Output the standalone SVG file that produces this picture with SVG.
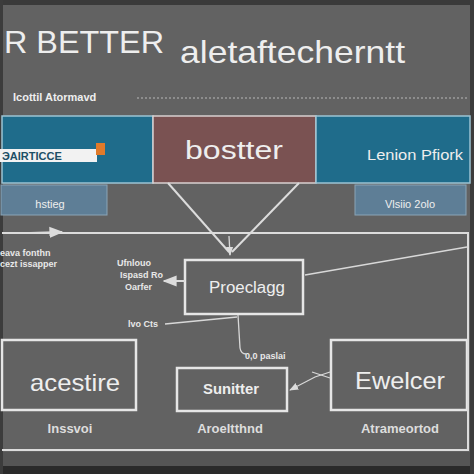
<svg xmlns="http://www.w3.org/2000/svg" width="474" height="474" viewBox="0 0 474 474">
<defs>
<style>
.ln{stroke:#dcdcdc;stroke-width:2;fill:none}
.thin{stroke:#d8d8d8;stroke-width:1.3;fill:none}
.box{stroke:#e6e6e6;stroke-width:2.5;fill:none}
.t{font-family:"Liberation Sans",Arial,sans-serif;fill:#eeeeee}
.s{font-family:"Liberation Sans",Arial,sans-serif;fill:#e8e8e8;font-size:9px;font-weight:bold}
.lab{font-family:"Liberation Sans",Arial,sans-serif;fill:#dddddd;font-size:13px;font-weight:bold;text-anchor:middle}
</style>
<marker id="ah" viewBox="0 0 10 10" refX="9" refY="5" markerWidth="7" markerHeight="7" orient="auto-start-reverse">
<path d="M0,1 L10,5 L0,9 Z" fill="#dcdcdc"/>
</marker>
</defs>
<rect width="474" height="474" fill="#626262"/>
<rect width="474" height="5" fill="#3a3a3a"/>
<rect x="0" y="452" width="474" height="22" fill="#555"/>
<rect x="0" y="466" width="474" height="8" fill="#2a2a2a"/>
<rect x="0" y="0" width="3" height="474" fill="#3c3c3c"/>
<rect x="470" y="0" width="4" height="474" fill="#3c3c3c"/>

<g id="title">
<text class="t" x="4" y="53" font-size="31" fill="#e6e6e6" textLength="160" lengthAdjust="spacingAndGlyphs">R BETTER</text>
<text class="t" x="180" y="63" font-size="32" fill="#e0e0e0" textLength="225" lengthAdjust="spacingAndGlyphs">aletaftecherntt</text>
<text class="t" x="13" y="101" font-size="11" font-weight="bold">Icottil Atormavd</text>
<line x1="137" y1="98" x2="468" y2="98" stroke="#b8b8b8" stroke-width="1.2" stroke-dasharray="2,2"/>
</g>

<g id="header-left">
<rect x="2" y="116" width="151" height="67" fill="#1f6c8b" stroke="#9cc3d3" stroke-width="1.5"/>
<rect x="0" y="149" width="97" height="13" fill="#f2f2f2"/>
<rect x="96" y="143" width="9" height="12" fill="#e07a2a"/>
<text x="2" y="160" font-family="Liberation Sans,Arial,sans-serif" font-size="11" font-weight="bold" fill="#1d4f66">ЭAIRTICCE</text>
</g>
<g id="header-center">
<rect x="153" y="116" width="163" height="67" fill="#7a5252" stroke="#d8d0d0" stroke-width="1.5"/>
<text class="t" x="185" y="159" font-size="26" textLength="98" lengthAdjust="spacingAndGlyphs">bostter</text>
</g>
<g id="header-right">
<rect x="316" y="116" width="154" height="67" fill="#1f6c8b" stroke="#9cc3d3" stroke-width="1.5"/>
<text class="t" x="367" y="160" font-size="15" textLength="96" lengthAdjust="spacingAndGlyphs">Lenion Pfiork</text>
</g>
<g id="sub-left">
<rect x="1" y="185" width="106" height="30" fill="#5e7e96" stroke="#8aa4b6" stroke-width="1"/>
<text class="t" x="50" y="208" font-size="11" text-anchor="middle">hstieg</text>
</g>
<g id="sub-right">
<rect x="355" y="185" width="111" height="30" fill="#5e7e96" stroke="#8aa4b6" stroke-width="1"/>
<text class="t" x="410" y="208" font-size="11" text-anchor="middle">Vlsiio 2olo</text>
</g>

<g id="processing">
<rect class="box" x="185" y="260" width="118" height="54"/>
<text class="t" x="209" y="293" font-size="16" textLength="76" lengthAdjust="spacingAndGlyphs">Proeclagg</text>
</g>
<g id="left-box">
<rect class="box" x="2" y="340" width="134" height="70"/>
<text class="t" x="30" y="391" font-size="24" textLength="90" lengthAdjust="spacingAndGlyphs">acestire</text>
</g>
<g id="sunitter">
<rect class="box" x="177" y="368" width="110" height="43"/>
<text class="t" x="203" y="394" font-size="14" font-weight="bold" textLength="56" lengthAdjust="spacingAndGlyphs">Sunitter</text>
</g>
<g id="ewelcer">
<rect class="box" x="331" y="340" width="136" height="70"/>
<text class="t" x="355" y="389" font-size="24" textLength="90" lengthAdjust="spacingAndGlyphs">Ewelcer</text>
</g>

<g id="labels">
<text class="s" x="0" y="256">eava fonthn</text>
<text class="s" x="0" y="267">cezt issapper</text>
<text class="s" x="117" y="266">Ufnlouo</text>
<text class="s" x="120" y="278">Ispasd Ro</text>
<text class="s" x="125" y="290">Oarfer</text>
<text class="s" x="128" y="327">lvo Cts</text>
<text class="s" x="245" y="359" font-weight="normal">0,0 paslai</text>
<text class="lab" x="70" y="433">Inssvoi</text>
<text class="lab" x="230" y="433">Aroeltthnd</text>
<text class="lab" x="400" y="433">Atrameortod</text>
</g>

<g id="connectors">
<line class="ln" x1="168" y1="183" x2="229" y2="252"/>
<line class="ln" x1="299" y1="183" x2="232" y2="252"/>
<line class="thin" x1="229" y1="236" x2="230" y2="255" marker-end="url(#ah)"/>
<polyline class="ln" points="2,233 468,233 468,450 2,450"/>
<line class="ln" x1="30" y1="233" x2="62" y2="232" marker-end="url(#ah)"/>
<line class="ln" x1="185" y1="281" x2="164" y2="281" marker-end="url(#ah)"/>
<line class="thin" x1="165" y1="324" x2="237" y2="317"/>
<line class="thin" x1="305" y1="275" x2="467" y2="247"/>
<path class="thin" d="M238,315 L240,348 Q241,354 246,354"/>
<path class="thin" d="M330,372 L315,377 L290,390" marker-end="url(#ah)"/>
<line class="thin" x1="312" y1="372" x2="330" y2="378"/>
</g>
</svg>
